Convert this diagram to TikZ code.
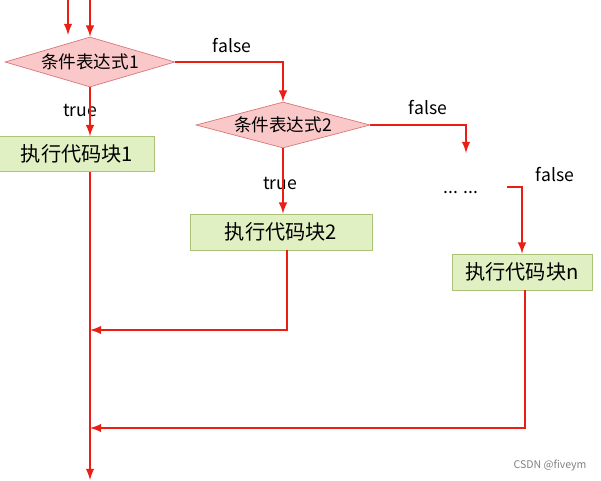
\documentclass[tikz,border=0pt]{standalone}
\usepackage{fontspec}
\setmainfont{Noto Sans CJK SC}
\usetikzlibrary{shapes.geometric}
\definecolor{dpink}{RGB}{250,200,200}
\definecolor{dpinkb}{RGB}{215,120,120}
\definecolor{bgreen}{RGB}{225,240,195}
\definecolor{bgreenb}{RGB}{170,195,120}
\definecolor{lred}{RGB}{235,30,20}
\begin{document}
\begin{tikzpicture}[x=0.02cm,y=-0.02cm]
\tikzset{cond/.style={diamond,aspect=3.5,draw=dpinkb,fill=dpink,inner sep=0pt,minimum width=3.4cm,minimum height=1cm,font=\fontsize{10}{12}\selectfont},
blk/.style={rectangle,draw=bgreenb,fill=bgreen,inner sep=0pt,font=\fontsize{11.5}{13}\selectfont},
flow/.style={lred,line width=1.2pt,-latex},
lbl/.style={font=\fontsize{10}{12}\selectfont}}
\useasboundingbox (0,0) rectangle (601,480);
\node [cond] (c1) at (90,62) {条件表达式1};
\node [cond,minimum width=3.48cm,minimum height=0.92cm] (c2) at (283,125) {条件表达式2};
\node [blk,minimum width=3.1cm,minimum height=0.7cm] (b1) at (77,154) {执行代码块1};
\node [blk,minimum width=3.64cm,minimum height=0.72cm] (b2) at (281,232) {执行代码块2};
\node [blk,minimum width=2.8cm,minimum height=0.72cm] (bn) at (522,272) {执行代码块n};
\node [lbl] (f1) at (232,46) {false};
\node [lbl] (t1) at (80,110) {true};
\node [lbl] (f2) at (428,108) {false};
\node [lbl] (t2) at (280,183) {true};
\node [lbl] (f3) at (555,175) {false};
\node [lbl] (dots) at (461,193) {... ...};
\node [font=\fontsize{6}{7}\selectfont,text=gray] (mark) at (550,465) {CSDN @fiveym};
\coordinate (in1) at (68,0);
\coordinate (in2) at (90,0);
\coordinate (d2) at (466,153);
\coordinate (d3) at (507,187);
\coordinate (out) at (90,480);
% entries
\draw [flow] (in1) -- (68,35);
\draw [flow] (in2) -- (c1.north);
% branches
\draw [flow] (c1.east) -| (c2.north);
\draw [flow] (c1.south) -- (c1.south |- b1.north);
\draw [flow] (c2.east) -| (d2);
\draw [flow] (c2.south) -- (c2.south |- b2.north);
\draw [flow] (d3) -| (bn.north);
% merges
\draw [flow] (b1.south -| c1.south) -- (out);
\draw [flow] (b2.south -| 287,0) -- (287,330) -- (90,330);
\draw [flow] (bn.south -| 525,0) -- (525,428) -- (90,428);
\end{tikzpicture}
\end{document}
